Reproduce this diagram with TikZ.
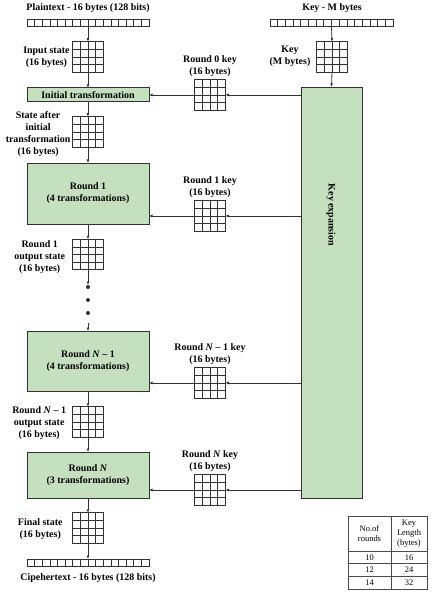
\documentclass[tikz,border=0pt]{standalone}
\usepackage{fontspec}
\setmainfont{Liberation Serif}
\usetikzlibrary{calc,arrows.meta}
\definecolor{boxgreen}{RGB}{197,224,190}
\definecolor{linegray}{RGB}{50,50,50}
\begin{document}
\begin{tikzpicture}[x=1bp,y=-1bp,
  every node/.style={inner sep=0pt, outer sep=0pt},
  txt/.style={font=\fontsize{10}{12}\selectfont\bfseries, align=center, text=black},
  grid4/.style={draw=linegray, line width=0.7bp, minimum width=30.5bp, minimum height=30.5bp,
    path picture={
      \foreach \i in {1,2,3}{
        \draw[linegray, line width=0.7bp]
          ($(path picture bounding box.north west)!\i/4!(path picture bounding box.north east)$) --
          ($(path picture bounding box.south west)!\i/4!(path picture bounding box.south east)$);
        \draw[linegray, line width=0.7bp]
          ($(path picture bounding box.north west)!\i/4!(path picture bounding box.south west)$) --
          ($(path picture bounding box.north east)!\i/4!(path picture bounding box.south east)$);
      }}},
  bar16/.style={draw=linegray, line width=0.7bp, minimum width=122bp, minimum height=7bp,
    path picture={
      \foreach \i in {1,...,15}{
        \draw[linegray, line width=0.7bp]
          ($(path picture bounding box.north west)!\i/16!(path picture bounding box.north east)$) --
          ($(path picture bounding box.south west)!\i/16!(path picture bounding box.south east)$);
      }}},
  gbox/.style={draw=linegray, line width=0.9bp, fill=boxgreen, minimum width=122bp,
    font=\fontsize{10}{12}\selectfont\bfseries, align=center},
  dotnode/.style={circle, fill=linegray, minimum size=4bp},
  arr/.style={draw=linegray, line width=0.8bp, -{Latex[length=3.5bp,width=2.8bp]}},
  tline/.style={draw=black!70, line width=0.6bp},
  tcell/.style={font=\fontsize{8.5}{10}\selectfont, align=center, text=black}
]
\useasboundingbox (0,0) rectangle (435,595);

% ---------- left column ----------
\node[txt] (ptitle) at (88,8) {Plaintext - 16 bytes (128 bits)};
\node[bar16] (pbar) at (88,22.5) {};
\node[grid4] (gin) at (88,57) {};
\node[txt, anchor=east] (lin) at (69.5,57) {Input state\\(16 bytes)};
\node[gbox, minimum height=13.5bp] (init) at (88,94.7) {Initial transformation};
\node[grid4] (g0) at (88,132) {};
\node[txt, anchor=east] (l0) at (70.5,134) {State after\\initial\\transformation\\(16 bytes)};
\node[gbox, minimum height=61bp] (r1) at (88,193.5) {Round 1\\(4 transformations)};
\node[grid4] (g1) at (88,254.5) {};
\node[txt, anchor=east] (l1) at (65,257) {Round 1\\output state\\(16 bytes)};
\node[dotnode] (d1) at (88,287) {};
\node[dotnode] (d2) at (88,300) {};
\node[dotnode] (d3) at (88,313) {};
\node[gbox, minimum height=60bp] (rN1) at (88,361) {Round \textit{N} – 1\\(4 transformations)};
\node[grid4] (gN1) at (88,422) {};
\node[txt, anchor=east] (lN1) at (66,423) {Round \textit{N} – 1\\output state\\(16 bytes)};
\node[gbox, minimum height=46bp] (rN) at (88,475) {Round \textit{N}\\(3 transformations)};
\node[grid4] (gf) at (88,528) {};
\node[txt, anchor=east] (lf) at (62.5,529) {Final state\\(16 bytes)};
\node[bar16] (cbar) at (88,562.5) {};
\node[txt] (ctitle) at (88,578) {Cipehertext - 16 bytes (128 bits)};

\draw[arr] (pbar.south) -- (gin.north);
\draw[arr] (gin.south) -- (init.north);
\draw[arr] (init.south) -- (g0.north);
\draw[arr] (g0.south) -- (r1.north);
\draw[arr] (r1.south) -- (g1.north);
\draw[arr] (g1.south) -- (d1.north);
\draw[arr, shorten <=8bp] (d3.south) -- (rN1.north);
\draw[arr] (rN1.south) -- (gN1.north);
\draw[arr] (gN1.south) -- (rN.north);
\draw[arr] (rN.south) -- (gf.north);
\draw[arr] (gf.south) -- (cbar.north);

% ---------- key side ----------
\node[txt] (ktitle) at (332,8) {Key - M bytes};
\node[bar16, minimum width=123bp] (kbar) at (331.5,22.5) {};
\node[grid4] (kg) at (332,57) {};
\node[txt] (lk) at (290,56) {Key\\(M bytes)};
\node[gbox, minimum width=61bp, minimum height=411bp] (kexp) at (331.5,292.5) {};
\node[txt, rotate=-90] (kexpl) at (331,215) {Key expansion};
\draw[arr] (kbar.south) -- (kg.north);
\draw[arr] (kg.south) -- (kexp.north);

% round keys
\node[grid4] (k0) at (210,95) {};
\node[txt, anchor=south] (lk0) at ($(k0.north)+(0,-3)$) {Round 0 key\\(16 bytes)};
\node[grid4] (k1) at (210,216) {};
\node[txt, anchor=south] (lk1) at ($(k1.north)+(0,-3)$) {Round 1 key\\(16 bytes)};
\node[grid4] (kN1) at (210,383) {};
\node[txt, anchor=south] (lkN1) at ($(kN1.north)+(0,-3)$) {Round \textit{N} – 1 key\\(16 bytes)};
\node[grid4] (kN) at (210,490) {};
\node[txt, anchor=south] (lkN) at ($(kN.north)+(0,-3)$) {Round \textit{N} key\\(16 bytes)};

\foreach \k/\b in {k0/init, k1/r1, kN1/rN1, kN/rN}{
  \draw[arr] (kexp.west |- \k.east) -- (\k.east);
  \draw[arr] (\k.west) -- (\k.west -| \b.east);
}

% ---------- table ----------
\node[tline, minimum width=79bp, minimum height=73bp] (tbl) at (387.5,552.5) {};
\draw[tline] (391,516) -- (391,589);
\draw[tline] (348,551) -- (427,551);
\draw[tline] (348,563.5) -- (427,563.5);
\draw[tline] (348,576) -- (427,576);
\node[tcell] (th1) at (369.5,534) {No.of\\rounds};
\node[tcell] (th2) at (409,534) {Key\\Length\\(bytes)};
\node[tcell] (ta1) at (369.5,557.5) {10};
\node[tcell] (tb1) at (409,557.5) {16};
\node[tcell] (ta2) at (369.5,570) {12};
\node[tcell] (tb2) at (409,570) {24};
\node[tcell] (ta3) at (369.5,582.5) {14};
\node[tcell] (tb3) at (409,582.5) {32};
\end{tikzpicture}
\end{document}
